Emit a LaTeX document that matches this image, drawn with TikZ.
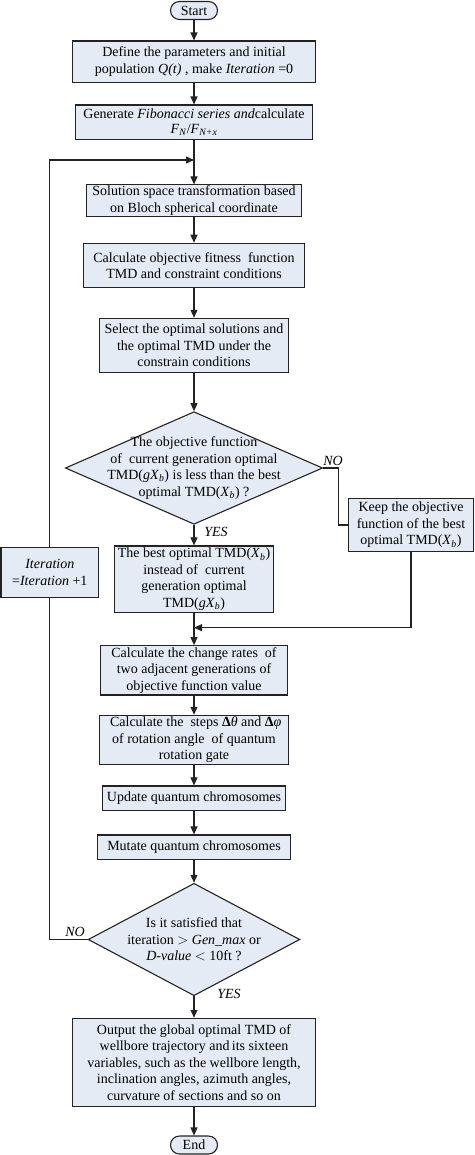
\documentclass[tikz,border=0pt]{standalone}
\usepackage{fontspec}
\setmainfont{Liberation Serif}
\usetikzlibrary{arrows.meta,shapes.geometric}
\definecolor{boxfill}{RGB}{228,235,245}
\definecolor{linec}{RGB}{35,35,35}
\newcommand{\myXb}{\textit{X}\textsubscript{\textit{b}}}
\tikzset{
  base/.style={draw=linec, line width=1.1pt, fill=boxfill, inner sep=0pt, align=center,
    font=\fontsize{14}{16.5}\selectfont},
  proc/.style={base, rectangle},
  term/.style={base, rounded corners=9pt},
  dia/.style={base, diamond, shape aspect=2},
  txt/.style={inner sep=0pt, align=center, font=\fontsize{14}{16.5}\selectfont},
  lbl/.style={inner sep=0pt, font=\fontsize{14}{16}\selectfont\itshape},
  conn/.style={draw=linec, line width=1.1pt},
  arr/.style={conn, -{Triangle[length=8pt,width=7pt]}},
}
\begin{document}
\begin{tikzpicture}[x=1pt,y=-1pt]
\useasboundingbox (0,0) rectangle (474,1155);

\node[term, minimum width=47pt, minimum height=18pt] (start) at (194,10.5) {Start};
\node[proc, minimum width=242.6pt, minimum height=41.3pt] (b1) at (194,61.7)
  {Define the parameters and initial\\population \textit{Q(t)} , make \textit{Iteration} =0};
\node[proc, minimum width=236.3pt, minimum height=34.3pt] (b2) at (194,122.2)
  {Generate \textit{Fibonacci series and}calculate\\[-1pt]
   \textit{F}\textsubscript{\textit{N}}/\textit{F}\textsubscript{\textit{N+x}}};
\coordinate (j1) at (194,160);
\node[proc, minimum width=214.4pt, minimum height=31.7pt] (b3) at (194,200.8)
  {Solution space transformation based\\on Bloch spherical coordinate};
\node[proc, minimum width=220.7pt, minimum height=44.4pt] (b4) at (194,265.5)
  {Calculate objective fitness\ \ function\\TMD and constraint conditions};
\node[proc, minimum width=189pt, minimum height=54pt] (b5) at (194,345.3)
  {Select the optimal solutions and\\the optimal TMD under the\\constrain conditions};
\node[dia, minimum width=257.3pt, minimum height=112.6pt] (d1) at (194,468) {};
\node[txt] (d1t) at (194,468)
  {The objective function\\of\ \ current generation optimal\\TMD(\textit{g}\myXb) is less than the best\\optimal TMD(\myXb) ?};
\node[proc, minimum width=124.6pt, minimum height=53.4pt] (keep) at (411,525)
  {Keep the objective\\function of the best\\optimal TMD(\myXb)};
\node[proc, minimum width=159.7pt, minimum height=66.7pt] (b6) at (194,579.3)
  {The best optimal TMD(\myXb)\\instead of\ \ current\\generation optimal\\TMD(\textit{g}\myXb)};
\node[proc, minimum width=97.7pt, minimum height=49.6pt] (iter) at (49.8,572.5)
  {\textit{Iteration}\\=\textit{Iteration} +1};
\coordinate (j2) at (194,627.7);
\node[proc, minimum width=187pt, minimum height=49.3pt] (b7) at (194,670.3)
  {Calculate the change rates\ \ of\\two adjacent generations of\\objective function value};
\node[proc, minimum width=189.4pt, minimum height=48.7pt] (b8) at (194,739.7)
  {\ Calculate the\ \ steps {\bfseries Δ}\textit{θ} and {\bfseries Δ}\textit{φ}\\of rotation angle\ \ of quantum\\rotation gate};
\node[proc, minimum width=183pt, minimum height=24.7pt] (b9) at (194,798.3)
  {Update quantum chromosomes};
\node[proc, minimum width=193.4pt, minimum height=24.7pt] (b10) at (194,847.3)
  {Mutate quantum chromosomes};
\node[dia, minimum width=211.7pt, minimum height=112.4pt] (d2) at (194,939.5) {};
\node[txt] (d2t) at (194,939.5)
  {Is it satisfied that\\iteration $>$ \textit{Gen\_max} or\\\textit{D-value} $<$ 10ft ?};
\node[proc, minimum width=242.6pt, minimum height=88pt] (b11) at (194,1062.3)
  {Output the global optimal TMD of\\wellbore trajectory and\,its sixteen\\variables, such as the wellbore length,\\inclination angles, azimuth angles,\\curvature of sections and so on};
\node[term, minimum width=47pt, minimum height=18pt] (end) at (194,1145) {End};

% labels
\node[lbl] (no1) at (333,461) {NO};
\node[lbl] (yes1) at (216,532) {YES};
\node[lbl] (no2) at (75,932) {NO};
\node[lbl] (yes2) at (229,994) {YES};

% connectors
\draw[arr] (start) -- (b1);
\draw[arr] (b1) -- (b2);
\draw[conn] (b2) -- (j1);
\draw[arr] (j1) -- (b3);
\draw[arr] (b3) -- (b4);
\draw[arr] (b4) -- (b5);
\draw[arr] (b5) -- (d1.north);
\draw[arr] (d1.south) -- (b6);
\draw[conn] (d1.east) -- (338.3,468) |- (keep.west);
\draw[arr] (keep.south) |- (j2);
\draw[conn] (b6) -- (j2);
\draw[arr] (j2) -- (b7);
\draw[arr] (b7) -- (b8);
\draw[arr] (b8) -- (b9);
\draw[arr] (b9) -- (b10);
\draw[arr] (b10) -- (d2.north);
\draw[conn] (d2.west) -| (iter.south);
\draw[arr] (iter.north) |- (j1);
\draw[arr] (d2.south) -- (b11);
\draw[arr] (b11) -- (end);
\end{tikzpicture}
\end{document}
